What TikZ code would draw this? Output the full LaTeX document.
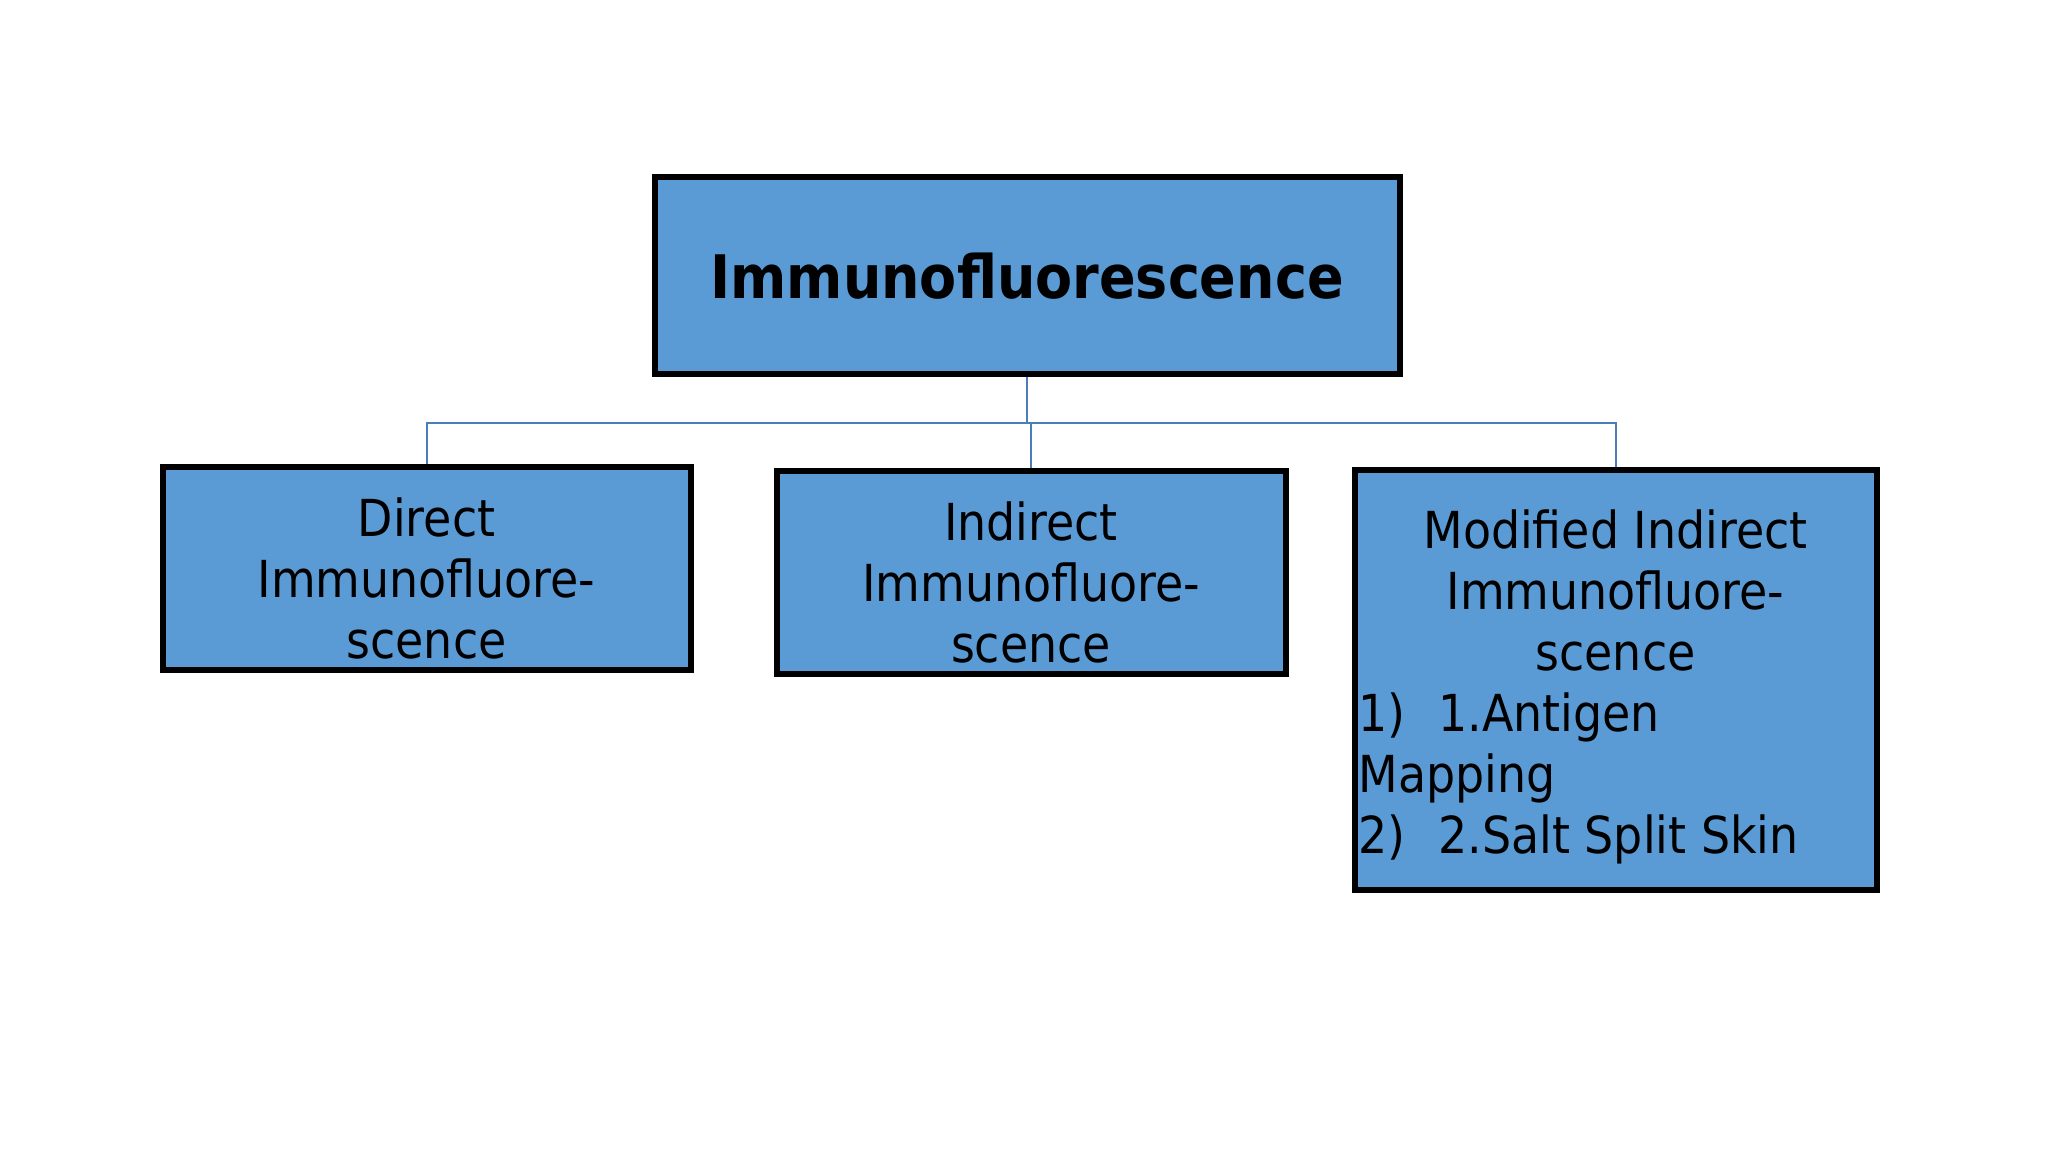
\documentclass[tikz,border=0pt]{standalone}
\usepackage{fontspec}
\setmainfont{DejaVu Sans Condensed}
\definecolor{boxblue}{HTML}{5B9BD5}
\definecolor{linkblue}{HTML}{4A7EBB}
\newcommand{\topgap}[1]{\rule{0pt}{#1}}
\begin{document}
\begin{tikzpicture}[
    x=1pt, y=1pt,
    every node/.style={rectangle, draw=black, line width=6pt, fill=boxblue, inner sep=0pt, align=center, font=\fontsize{51}{61}\selectfont},
    link/.style={draw=linkblue, line width=2pt}
  ]
  \fill[white] (0,0) rectangle (2048,1152);
  \useasboundingbox (0,0) rectangle (2048,1152);
  \node[minimum width=745, minimum height=197, font=\fontsize{60}{70}\selectfont\bfseries] (top) at (1027,876) {Immunofluorescence};
  \node[minimum width=528, minimum height=203] (direct) at (426.5,583) {\topgap{58pt}Direct\\Immunofluore-\\scence};
  \node[minimum width=509, minimum height=203] (indirect) at (1031,579) {\topgap{58pt}Indirect\\Immunofluore-\\scence};
  \node[minimum width=522, minimum height=420, text width=514, align=none] (modified) at (1615.5,471.5)
    {\centering\topgap{52pt}Modified Indirect\\Immunofluore-\\scence\par
     \raggedright 1)\hspace{33pt}1.Antigen\\Mapping\\2)\hspace{33pt}2.Salt Split Skin\par};
  \coordinate (fork) at (1027,729);
  \draw[link] (top.south) -- (fork) -| (direct.north);
  \draw[link] (fork) -| (indirect.north);
  \draw[link] (fork) -| (modified.north);
\end{tikzpicture}
\end{document}
